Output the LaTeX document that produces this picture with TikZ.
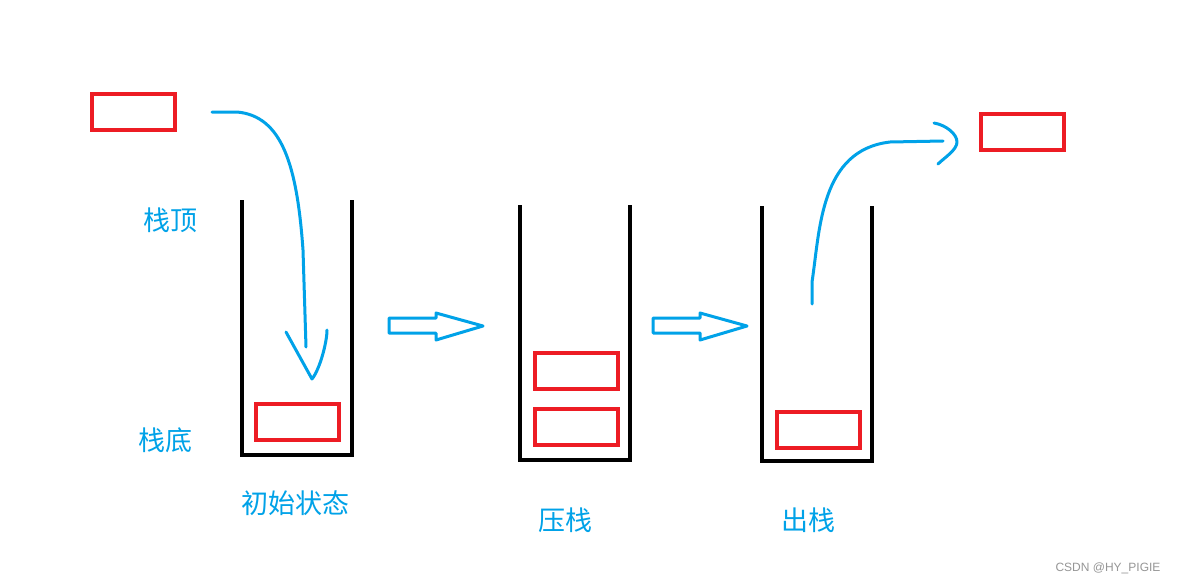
\documentclass[tikz,border=0pt]{standalone}
\usepackage{fontspec}
\usepackage{tikz}
\usetikzlibrary{arrows.meta,calc,positioning}
\setsansfont{Liberation Sans}
\newfontfamily\cjk{Noto Sans CJK SC}
\definecolor{paintblue}{RGB}{0,162,232}
\definecolor{paintred}{RGB}{237,28,36}
\definecolor{markgray}{RGB}{150,150,150}

\begin{document}
\begin{tikzpicture}[x=1pt,y=-1pt,
  elem/.style={draw=paintred,line width=4pt,minimum width=83pt,minimum height=36pt,inner sep=0pt},
  wall/.style={line width=4.5pt},
  flow/.style={paintblue,line width=3pt,line cap=round,line join=round},
  lbl/.style={text=paintblue,font=\cjk\fontsize{27}{27}\selectfont,inner sep=0pt}]
  \fill[white] (0,0) rectangle (1177,584);
  \useasboundingbox (0,0) rectangle (1177,584);
  % the three stacks
  \foreach \l/\r/\t/\b in {242/352/200/455,520/630/205/460,762/872/206/461}
    \draw[wall] (\l,\t) |- (\r,\b) -- (\r,\t);
  \node[elem] (top-in) at (133,112) {};
  \node[elem] (s1-a) at (297,421.5) {};
  \node[elem] (s2-a) at (576.5,427) {};
  \node[elem,above=16pt of s2-a] (s2-b) {};
  \node[elem] (s3-a) at (818.5,429.5) {};
  \node[elem] (top-out) at (1022.5,132) {};
  \node[lbl] (top-lbl) at (170,220) {栈顶};
  \node[lbl] (bot-lbl) at (165,440) {栈底};
  \node[lbl] (s1-lbl) at (295,503) {初始状态};
  \node[lbl] (s2-lbl) at (565,520) {压栈};
  \node[lbl] (s3-lbl) at (808,520) {出栈};
  % hollow step arrows
  \foreach \x in {389,653}
    \draw[paintblue,line width=3pt,line join=round] (\x,318) -- ++(47,0) -- ++(0,-5) -- ++(47,13) -- ++(-47,14) -- ++(0,-7) -- ++(-47,0) -- cycle;
  % push
  \coordinate (in-start) at (212,112);
  \coordinate (in-end) at (306,347);
  \coordinate (in-tip) at (312,379);
  \draw[flow] (in-start) -- (237,112) .. controls (282,116) and (297,165) .. (303,250) -- (in-end);
  \draw[flow] (in-tip) ++(-26,-47) -- (in-tip) .. controls +(8,-10) and +(0,12) .. ++(15,-49);
  % pop
  \coordinate (out-start) at (812,304);
  \coordinate (out-end) at (943,141);
  \coordinate (out-tip) at (957,142);
  \draw[flow] (out-start) -- (812,282) .. controls (820,230) and (820,150) .. (890,142) -- (out-end);
  \draw[flow] (out-tip) ++(-23,-19) .. controls +(12,2) and +(0,-8) .. (out-tip) .. controls +(0,8) and +(6,-6) .. ++(-19,22);
  \node[text=markgray,font=\sffamily\fontsize{12}{12}\selectfont,inner sep=0pt] (mark) at (1108,568) {CSDN @HY\_PIGIE};
\end{tikzpicture}
\end{document}
